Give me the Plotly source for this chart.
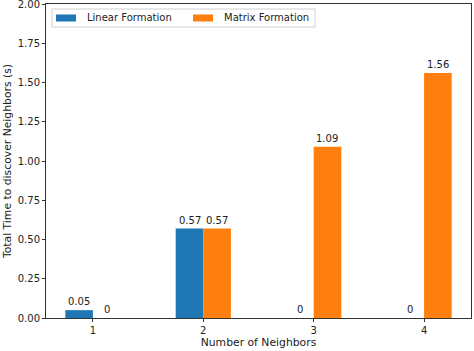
import plotly.graph_objects as go

categories = [1, 2, 3, 4]
series_names = ["Linear Formation", "Matrix Formation"]
linear_vals = [0.05, 0.57, 0, 0]
matrix_vals = [0, 0.57, 1.09, 1.56]
linear_labels = ["0.05", "0.57", "0", "0"]
matrix_labels = ["0", "0.57", "1.09", "1.56"]
yticks = [0.0, 0.25, 0.5, 0.75, 1.0, 1.25, 1.5, 1.75, 2.0]

BLUE = "#1f77b4"
ORANGE = "#ff7f0e"
FONT = "DejaVu Sans"
W, H = 474, 351
ML, MR, MT, MB = 46, 3, 4, 33
PW, PH = W - ML - MR, H - MT - MB


def px_x(x):
    return (x - ML) / PW


def px_y(y):
    return 1 - (y - MT) / PH


fig = go.Figure()
fig.add_trace(go.Bar(x=categories, y=linear_vals, name=series_names[0],
                     marker=dict(color=BLUE, line=dict(width=0)), showlegend=False))
fig.add_trace(go.Bar(x=categories, y=matrix_vals, name=series_names[1],
                     marker=dict(color=ORANGE, line=dict(width=0)), showlegend=False))

for c, v, t in zip(categories, linear_vals, linear_labels):
    fig.add_annotation(x=c - 0.125, y=v, text=t, showarrow=False,
                       yanchor="bottom", yshift=1, xref="x", yref="y",
                       font=dict(family=FONT, size=10, color="#222"))
for c, v, t in zip(categories, matrix_vals, matrix_labels):
    fig.add_annotation(x=c + 0.125, y=v, text=t, showarrow=False,
                       yanchor="bottom", yshift=1, xref="x", yref="y",
                       font=dict(family=FONT, size=10, color="#222"))

# legend (drawn as decoration, upper left, two columns)
fig.add_shape(type="rect", xref="paper", yref="paper",
              x0=px_x(52), x1=px_x(315), y0=px_y(27), y1=px_y(9),
              line=dict(color="#d0d0d0", width=1), fillcolor="rgba(255,255,255,0.8)", layer="above")
for (sx, tx), col, name in zip([(56, 85), (193, 222)], [BLUE, ORANGE], series_names):
    fig.add_shape(type="rect", xref="paper", yref="paper",
                  x0=px_x(sx), x1=px_x(sx + 20), y0=px_y(21.5), y1=px_y(14.5),
                  line=dict(width=0), fillcolor=col, layer="above")
    fig.add_annotation(x=px_x(tx), y=px_y(18), xref="paper", yref="paper", text=name,
                       showarrow=False, xanchor="left", yanchor="middle",
                       font=dict(family=FONT, size=10, color="#222"))

fig.update_layout(
    width=W, height=H,
    margin=dict(l=ML, r=MR, t=MT, b=MB),
    paper_bgcolor="white", plot_bgcolor="white",
    barmode="group", bargap=0.5, bargroupgap=0,
    font=dict(family=FONT, size=10, color="#222"),
    showlegend=False,
)
fig.update_xaxes(range=[0.575, 4.425], tickvals=categories, ticktext=[str(c) for c in categories],
                 showline=True, linecolor="#333", linewidth=1, mirror=True,
                 ticks="outside", ticklen=3, tickcolor="#333", showgrid=False, zeroline=False,
                 ticklabeloverflow="allow",
                 title=dict(text="Number of Neighbors", font=dict(family=FONT, size=10.8, color="#222"), standoff=3),
                 automargin=False)
fig.update_yaxes(range=[0, 2.0], tickvals=yticks, tickformat=".2f",
                 showline=True, linecolor="#333", linewidth=1, mirror=True,
                 ticks="outside", ticklen=3, tickcolor="#333", showgrid=False, zeroline=False,
                 ticklabeloverflow="allow",
                 title=dict(text="Total Time to discover Neighbors (s)", font=dict(family=FONT, size=10.8, color="#222"), standoff=3),
                 automargin=False)

fig.write_html("out.html")
